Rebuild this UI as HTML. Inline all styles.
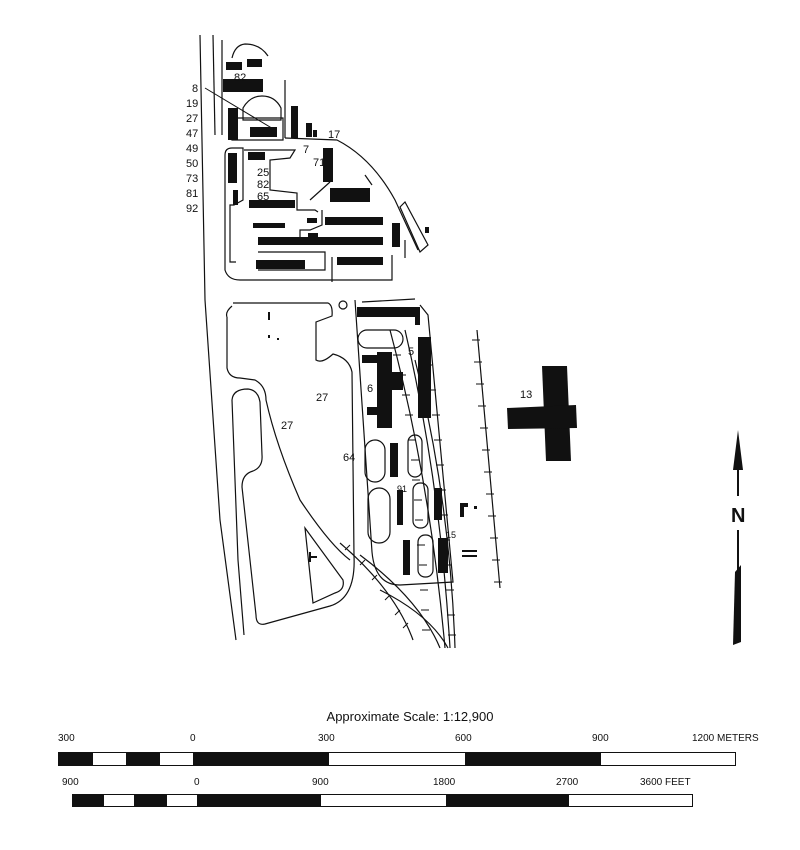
<!DOCTYPE html>
<html><head><meta charset="utf-8"><style>
html,body{margin:0;padding:0;background:#fff;}
svg{display:block;}
text{font-family:"Liberation Sans",sans-serif;fill:#111;}
</style></head><body>
<svg width="800" height="850" viewBox="0 0 800 850" xmlns="http://www.w3.org/2000/svg">
<g fill="none" stroke="#111" stroke-width="1.2">
<!-- main left roads -->
<path d="M200,35 L205,300 L220,520 L236,640"/>
<path d="M213,35 L215,135"/>
<path d="M222,40 L222,135"/>
<!-- top loops -->
<path d="M232,58 Q235,45 245,44 Q260,44 268,56"/>
<path d="M243,120 L243,108 Q250,96 262,96 Q275,96 281,108 L281,120 Z"/>
<path d="M232,118 L283,118 L283,140 L232,140 Z"/>
<path d="M285,80 L285,138"/>
<path d="M285,138 L337,140 Q372,158 395,200 L418,250"/>
<path d="M365,175 L372,185"/>
<path d="M400,207 L405,202 L428,245 L420,252 Z"/>
<!-- middle block outlines -->
<path d="M225,155 Q225,148 232,148 L243,148 L243,200 L234,205 L230,205 L230,262 L236,262"/>
<path d="M244,150 L295,150 L290,158 L270,160 L270,190 L297,193 L297,210 L315,210 L318,212"/>
<path d="M225,155 L225,270 Q228,280 240,280 L392,280 L392,255"/>
<path d="M322,210 L322,225 L310,230 L300,230 L300,240"/>
<path d="M330,182 L310,200"/>
<path d="M258,252 L325,252 L325,270 L258,270"/>
<path d="M332,257 L332,282"/>
<path d="M405,258 L405,240"/>
<!-- lower area -->
<circle cx="343" cy="305" r="4"/>
<path d="M233,303 L328,303 Q333,305 332,316 L316,322 L316,360 Q322,364 333,354 Q349,358 352,372 L354,556 Q356,598 330,606 L265,624 Q256,626 256,615 L242,487 Q242,474 253,471 Q263,467 262,455 L260,402 Q258,390 248,389 Q233,389 232,400"/>
<path d="M227,317 Q225,312 232,306 M227,317 L227,368 Q229,378 240,378 L255,380 Q266,386 266,400 Q276,445 300,500 Q330,545 350,560"/>
<path d="M232,400 L238,560 L244,635"/>
<path d="M305,528 L343,580 Q345,590 335,593 L313,603 Z"/>
<path d="M355,300 L372,552 Q375,585 400,585 L453,582 L428,315 L420,305"/>
<path d="M362,302 L415,299"/>
<rect x="358" y="330" width="45" height="18" rx="9"/>
<rect x="365" y="440" width="20" height="42" rx="10"/>
<rect x="408" y="435" width="14" height="42" rx="7"/>
<rect x="368" y="488" width="22" height="55" rx="11"/>
<rect x="413" y="483" width="15" height="45" rx="7"/>
<rect x="418" y="535" width="15" height="42" rx="7"/>
<!-- rail lines -->
<path d="M477,330 L500,588"/>
<path d="M390,330 Q430,480 445,648"/>
<path d="M405,330 Q440,480 450,648"/>
<path d="M415,360 Q450,500 455,648"/>
<path d="M340,543 Q395,590 413,640"/>
<path d="M360,555 Q420,600 440,648"/>
<path d="M380,590 Q430,615 448,648"/>
</g>
<g stroke="#111" stroke-width="1">
<path d="M472,340h8M474,362h8M476,384h8M478,406h8M480,428h8M482,450h8M484,472h8M486,494h8M488,516h8M490,538h8M492,560h8M494,582h8"/>
<path d="M393,355h8M398,375h8M402,395h8M405,415h8M408,440h8M411,460h8M412,480h8M414,500h8M415,520h8M417,545h8M419,565h8M420,590h8M421,610h8M422,630h8"/>
<path d="M420,340h8M424,365h8M428,390h8M432,415h8M434,440h8M436,465h8M438,490h8M440,515h8M442,540h8M444,565h8M446,590h8M447,615h8M448,635h8"/>
<path d="M345,550l5,-5M360,565l5,-5M372,580l5,-5M385,600l5,-5M395,615l5,-5M403,628l5,-5"/>
<path d="M205,88 L275,130"/>
</g>
<!-- buildings -->
<g fill="#111">
<rect x="226" y="62" width="16" height="8"/><rect x="247" y="59" width="15" height="8"/>
<rect x="223" y="79" width="40" height="13"/>
<rect x="228" y="108" width="10" height="32"/>
<rect x="250" y="127" width="27" height="10"/>
<rect x="291" y="106" width="7" height="32"/>
<rect x="306" y="123" width="6" height="14"/><rect x="313" y="130" width="4" height="7"/>
<rect x="323" y="148" width="10" height="34"/>
<rect x="228" y="153" width="9" height="30"/>
<rect x="248" y="152" width="17" height="8"/>
<rect x="249" y="200" width="46" height="8"/>
<rect x="233" y="190" width="5" height="15"/>
<rect x="330" y="188" width="40" height="14"/>
<rect x="325" y="217" width="58" height="8"/>
<rect x="307" y="218" width="10" height="5"/>
<rect x="253" y="223" width="32" height="5"/>
<rect x="258" y="237" width="125" height="8"/><rect x="308" y="233" width="10" height="5"/>
<rect x="392" y="223" width="8" height="24"/>
<rect x="256" y="260" width="49" height="9"/>
<rect x="337" y="257" width="46" height="8"/>
<rect x="425" y="227" width="4" height="6"/>
<rect x="357" y="307" width="63" height="10"/><rect x="415" y="307" width="5" height="18"/>
<rect x="377" y="352" width="15" height="76"/>
<rect x="362" y="355" width="16" height="8"/>
<rect x="367" y="407" width="13" height="8"/>
<rect x="392" y="372" width="11" height="18"/>
<rect x="418" y="337" width="13" height="81"/>
<rect x="390" y="443" width="8" height="34"/>
<rect x="397" y="490" width="6" height="35"/>
<rect x="434" y="488" width="8" height="32"/>
<rect x="403" y="540" width="7" height="35"/>
<rect x="438" y="538" width="10" height="35"/>
<rect x="460" y="503" width="8" height="4"/><rect x="460" y="503" width="4" height="14"/><rect x="474" y="506" width="3" height="3"/>
<rect x="462" y="550" width="15" height="2"/><rect x="462" y="555" width="15" height="2"/>
<rect x="268" y="312" width="2" height="8"/><rect x="268" y="335" width="2" height="3"/><rect x="277" y="338" width="2" height="2"/>
<rect x="310" y="556" width="7" height="2"/><rect x="309" y="552" width="2" height="10"/>
<path d="M542,366 L567,366 L571,461 L546,461 Z"/>
<path d="M507,408 L576,405 L577,428 L508,429 Z"/>
<path d="M738,430 L733,470 L743,470 Z"/>
<rect x="737" y="468" width="2" height="28"/>
<rect x="737" y="530" width="2" height="40"/>
<path d="M735,572 L741,565 L741,642 L733,645 Z"/>
</g>
<g font-size="11">
<text x="234" y="81">82</text>
<text x="192" y="92">8</text>
<text x="186" y="107">19</text><text x="186" y="122">27</text><text x="186" y="137">47</text>
<text x="186" y="152">49</text><text x="186" y="167">50</text><text x="186" y="182">73</text>
<text x="186" y="197">81</text><text x="186" y="212">92</text>
<text x="328" y="138">17</text>
<text x="303" y="153">7</text><text x="313" y="166">71</text>
<text x="257" y="176">25</text><text x="257" y="188">82</text><text x="257" y="200">65</text>
<text x="316" y="401">27</text><text x="281" y="429">27</text>
<text x="343" y="461">64</text><text x="367" y="392">6</text><text x="408" y="355">5</text>
<text x="397" y="492" font-size="9">91</text><text x="446" y="538" font-size="9">15</text>
<text x="520" y="398">13</text>
<text x="731" y="522" font-size="20" font-weight="bold">N</text>
</g>
<!-- scale -->
<text x="410" y="721" font-size="13" text-anchor="middle">Approximate Scale: 1:12,900</text>
<g font-size="10">
<text x="58" y="741">300</text><text x="190" y="741">0</text><text x="318" y="741">300</text>
<text x="455" y="741">600</text><text x="592" y="741">900</text><text x="692" y="741">1200 METERS</text>
<text x="62" y="785">900</text><text x="194" y="785">0</text><text x="312" y="785">900</text>
<text x="433" y="785">1800</text><text x="556" y="785">2700</text><text x="640" y="785">3600 FEET</text>
</g>
<g stroke="#111" stroke-width="1">
<rect x="58.5" y="752.5" width="677" height="13" fill="#fff"/>
<rect x="72.5" y="794.5" width="620" height="12" fill="#fff"/>
</g>
<g fill="#111">
<rect x="58" y="752" width="35" height="14"/><rect x="126" y="752" width="34" height="14"/>
<rect x="193" y="752" width="136" height="14"/><rect x="465" y="752" width="136" height="14"/>
<rect x="72" y="794" width="32" height="13"/><rect x="134" y="794" width="33" height="13"/>
<rect x="197" y="794" width="124" height="13"/><rect x="446" y="794" width="123" height="13"/>
</g>
</svg>
</body></html>
